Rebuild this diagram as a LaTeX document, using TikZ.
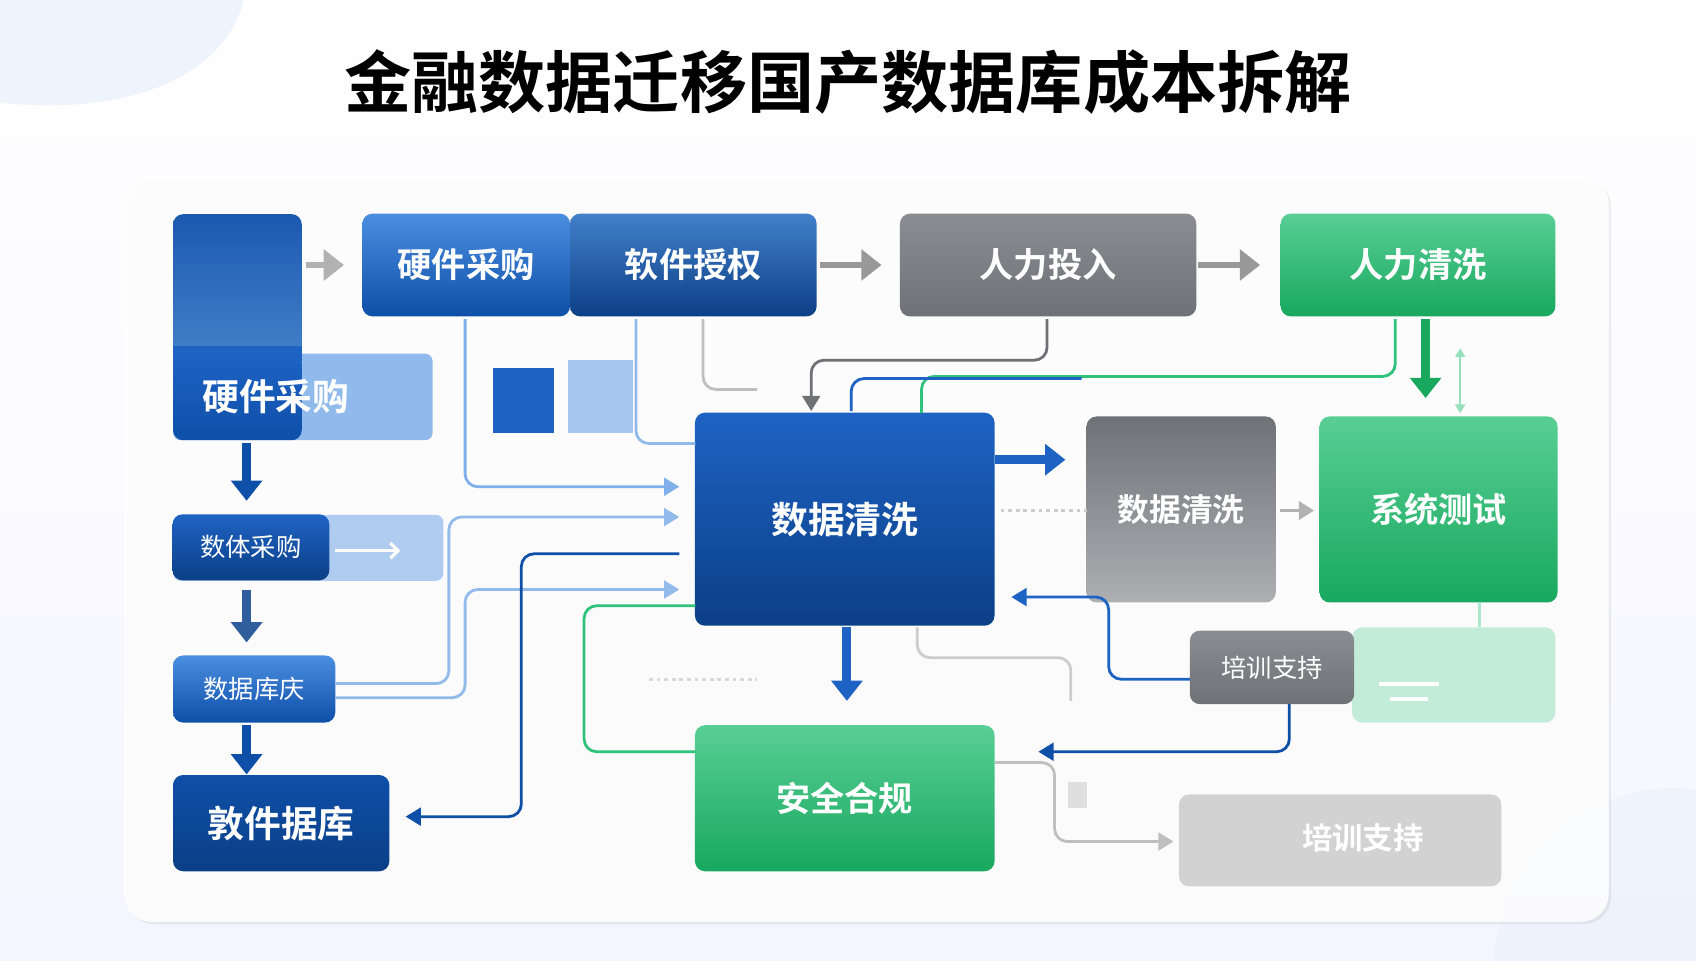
\documentclass[tikz,border=0pt]{standalone}
\usepackage{fontspec}
\newfontfamily\cjk{Noto Sans CJK SC}[BoldFont={Noto Sans CJK SC Bold}]
\usetikzlibrary{arrows.meta,shadows}
\definecolor{bA}{HTML}{1E63C4}\definecolor{bB}{HTML}{0E4FA8}\definecolor{bL}{HTML}{4A8EE0}
\definecolor{gA}{HTML}{2FC27A}\definecolor{gB}{HTML}{18A85E}
\definecolor{grA}{HTML}{8A8D92}\definecolor{grB}{HTML}{6E7176}
\begin{document}
\begin{tikzpicture}[x=0.03cm,y=-0.03cm,
 box/.style={rounded corners=8pt,text=white,font=\cjk\bfseries\fontsize{27}{31}\selectfont},
 blue/.style={box,top color=bL,bottom color=bB},
 dblue/.style={box,top color=bA,bottom color=bB!80!black},
 green/.style={box,top color=gA!80!white,bottom color=gB},
 gray/.style={box,top color=grA,bottom color=grB},
 ln/.style={line width=2.2pt,rounded corners=10pt},
 tip/.style={-{Triangle[length=12pt,width=14pt]}},
 fat/.style={line width=7pt,-{Triangle[length=16pt,width=24pt]}}]
\useasboundingbox (0,0) rectangle (1568,888);
\fill[top color=white,bottom color=blue!4] (0,0) rectangle (1568,888);
\fill[bL!15,opacity=.6] (0,0) -- (225,0) .. controls (215,50) and (150,110) .. (0,95) -- cycle;
\fill[bL!12,opacity=.6] (1568,888) -- (1380,888) .. controls (1400,760) and (1500,720) .. (1568,730) -- cycle;
\node[font=\cjk\bfseries\fontsize{53}{58}\selectfont] (title) at (784,76) {金融数据迁移国产数据库成本拆解};
\draw[white,fill=white,fill opacity=.85,rounded corners=22pt,drop shadow={opacity=.12}] (115,163) rectangle (1487,852);
% ghost shapes
\fill[bL!75,rounded corners=6pt,opacity=.8] (160,327) rectangle (400,407);
\fill[bL!55,rounded corners=6pt,opacity=.8] (160,476) rectangle (410,537);
\fill[bA] (456,340) rectangle (512,400);
\fill[bL!50] (525,333) rectangle (585,400);
\fill[gA!40,rounded corners=8pt,opacity=.7] (1250,580) rectangle (1438,668);
\draw[white,line width=3pt] (1275,632) -- (1330,632) (1285,646)--(1320,646);
% nodes
\shade[top color=bA!90!black,bottom color=bL!90!black,rounded corners=8pt] (160,198) rectangle (279,330);
\shade[top color=bA,bottom color=bB,rounded corners=8pt] (160,327) rectangle (279,407);
\fill[bA] (160,320) rectangle (279,335);
\node[text=white,font=\cjk\bfseries\fontsize{29}{33}\selectfont] (hwl) at (255,367) {硬件采购};
\node[blue,minimum width=192*0.03cm,minimum height=95*0.03cm] (hw) at (431,245) {硬件采购};
\node[dblue,minimum width=228*0.03cm,minimum height=95*0.03cm,top color=bL!90!black] (sw) at (641,245) {软件授权};
\node[gray,minimum width=274*0.03cm,minimum height=95*0.03cm] (rl) at (969,245) {人力投入};
\node[green,minimum width=254*0.03cm,minimum height=95*0.03cm] (rq) at (1311,245) {人力清洗};
\node[dblue,minimum width=277*0.03cm,minimum height=197*0.03cm,font=\cjk\bfseries\fontsize{29}{33}\selectfont] (dc) at (781,480) {数据清洗};
\node[gray,minimum width=175*0.03cm,minimum height=172*0.03cm,top color=grB,bottom color=grA!70!white,font=\cjk\bfseries\fontsize{25}{29}\selectfont] (dc2) at (1092,471) {数据清洗};
\node[green,minimum width=220*0.03cm,minimum height=172*0.03cm] (st) at (1330,471) {系统测试};
\node[dblue,minimum width=145*0.03cm,minimum height=61*0.03cm,font=\cjk\fontsize{20}{24}\selectfont] (n1) at (232,506) {数体采购};
\node[blue,minimum width=150*0.03cm,minimum height=62*0.03cm,font=\cjk\fontsize{20}{24}\selectfont] (n2) at (235,637) {数据库庆};
\node[dblue,minimum width=200*0.03cm,minimum height=89*0.03cm,top color=bB,bottom color=bB!80!black,font=\cjk\bfseries\fontsize{29}{33}\selectfont] (n3) at (260,761) {敦件据库};
\node[gray,minimum width=152*0.03cm,minimum height=68*0.03cm,font=\cjk\fontsize{20}{24}\selectfont] (px) at (1176,617) {培训支持};
\node[green,minimum width=277*0.03cm,minimum height=135*0.03cm] (aq) at (781,738) {安全合规};
\node[box,fill=gray!35,minimum width=298*0.03cm,minimum height=85*0.03cm] (px2) at (1239,777) {};
\node[text=white,font=\cjk\bfseries\fontsize{24}{28}\selectfont] (px2t) at (1260,775) {培训支持};
% thick arrows
\draw[fat,gray!60,line width=4pt] (283,245) -- (318,245);
\draw[fat,gray!80,line width=5pt] (758,245) -- (815,245);
\draw[fat,gray!80,line width=5pt] (1108,245) -- (1165,245);
\draw[fat,bB] (228,410) -- (228,463);
\draw[fat,bB!70!gray] (228,545) -- (228,594);
\draw[fat,bB] (228,670) -- (228,716);
\draw[fat,bA] (dc.east|-0,425) -- (985,425);
\draw[fat,bA] (783,580) -- (783,648);
\draw[fat,gB] (1318,295) -- (1318,368);
\draw[tip,gray!60,line width=3pt] (1183,472) -- (1215,472);
\draw[white,line width=2.5pt,-{Straight Barb[length=6pt]}] (310,509) -- (370,509);
% thin connectors
\draw[ln,grB,tip] (968,295) -- (968,333) -- (750,333) -- (750,380);
\draw[ln,gA] (1290,295) -- (1290,348) -- (852,348) -- (852,382);
\draw[ln,bA] (787,380) -- (787,350) -- (1000,350);
\draw[ln,bL!70,tip] (430,295) -- (430,450) -- (628,450);
\draw[ln,bL!60] (588,295) -- (588,410) -- (643,410);
\draw[ln,gray!50] (650,295) -- (650,360) -- (700,360);
\draw[ln,bL!60,tip] (310,632) -- (415,632) -- (415,478) -- (628,478);
\draw[ln,bL!60,tip] (310,645) -- (430,645) -- (430,545) -- (628,545);
\draw[ln,bB,tip] (628,512) -- (482,512) -- (482,755) -- (375,755);
\draw[ln,bA,tip] (1100,628) -- (1025,628) -- (1025,552) -- (935,552);
\draw[ln,bB,tip] (1192,651) -- (1192,695) -- (960,695);
\draw[ln,gA] (643,560) -- (540,560) -- (540,695) -- (643,695);
\draw[ln,gray!50,tip] (920,705) -- (975,705) -- (975,778) -- (1085,778);
\draw[ln,gray!40,dashed] (925,472) -- (1005,472);
\draw[ln,gray!30,dashed] (600,628) -- (700,628);
\draw[ln,gray!40] (848,580) -- (848,608) -- (990,608) -- (990,648);
\draw[ln,gA!40] (1368,557) -- (1368,580);
\draw[gA!50,line width=1.5pt,{Triangle}-{Triangle}] (1350,322) -- (1350,382);
\fill[gray!25] (987,723) rectangle (1005,747);
\end{tikzpicture}
\end{document}
